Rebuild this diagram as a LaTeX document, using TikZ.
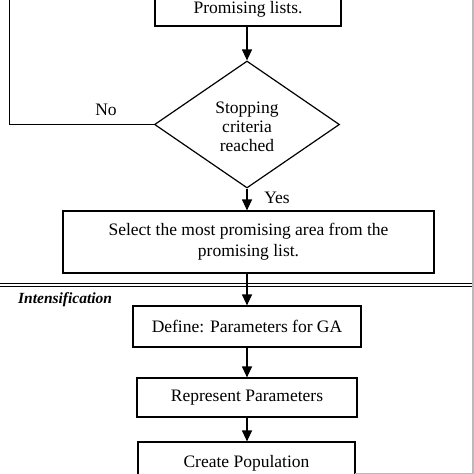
\documentclass[tikz,border=0pt]{standalone}
\usepackage{fontspec}
\setmainfont{Liberation Serif}
\usetikzlibrary{shapes.geometric,arrows.meta}
\begin{document}
\begin{tikzpicture}[x=1pt,y=-1pt,
  box/.style={draw,line width=1.2pt,inner sep=0pt,align=center,font=\fontsize{17.5}{21}\selectfont},
  arr/.style={line width=1.2pt,-{Triangle[length=11pt,width=10pt]}},
  lbl/.style={font=\fontsize{17.5}{21}\selectfont,inner sep=0pt}]
\useasboundingbox (0,0) rectangle (474,474);
\node[box,minimum width=186pt,minimum height=56pt] (top) at (248,-2) {\strut\\Promising lists.};
\node[box,shape=diamond,shape aspect=1.457,minimum width=185pt,minimum height=127pt,font=\fontsize{17.5}{19}\selectfont] (dia) at (247,124.5) {\mbox{}\\[-2pt]Stopping\\criteria\\reached};
\node[box,minimum width=371pt,minimum height=62pt] (sel) at (248.5,242) {Select the most promising area from the\\promising list.};
\node[box,minimum width=228pt,minimum height=41pt] (def) at (247,326.5) {Define: Parameters for GA};
\node[box,minimum width=220pt,minimum height=39pt] (rep) at (247,397.5) {Represent Parameters};
\node[box,minimum width=217pt,minimum height=42pt] (cre) at (246.5,463) {Create Population};
\coordinate (loopTop) at (9.5,-10);
\coordinate (loopCorner) at (9.5,124.5);
\draw[line width=1.2pt] (dia.west) -- (loopCorner) -- (loopTop);
\node[lbl] (no) at (106,110) {No};
\node[lbl] (yes) at (277,198) {Yes};
\node[inner sep=0pt,anchor=west,font=\fontsize{15.5}{18}\selectfont\bfseries\itshape] (intens) at (18,300) {Intensification};
\draw[arr] (top.south -| dia.north) -- (dia.north);
\draw[arr] (dia.south) -- (sel.north -| dia.south);
\draw[arr] (sel.south -| def.north) -- (def.north);
\draw[arr] (def.south) -- (rep.north);
\draw[arr] (rep.south) -- (rep.south |- cre.north);
\coordinate (dlL1) at (0,283.3);
\coordinate (dlR1) at (472,283.3);
\coordinate (dlL2) at (0,286.3);
\coordinate (dlR2) at (472,286.3);
\draw[line width=1.1pt] (dlL1) -- (dlR1);
\draw[line width=1.1pt] (dlL2) -- (dlR2);
\coordinate (edgeT) at (472.8,0);
\coordinate (edgeB) at (472.8,474);
\draw[gray!55,line width=1.6pt] (edgeT) -- (edgeB);
\coordinate (botL) at (355,473.3);
\coordinate (botR) at (474,473.3);
\draw[gray!55,line width=1.2pt] (botL) -- (botR);
\end{tikzpicture}
\end{document}
